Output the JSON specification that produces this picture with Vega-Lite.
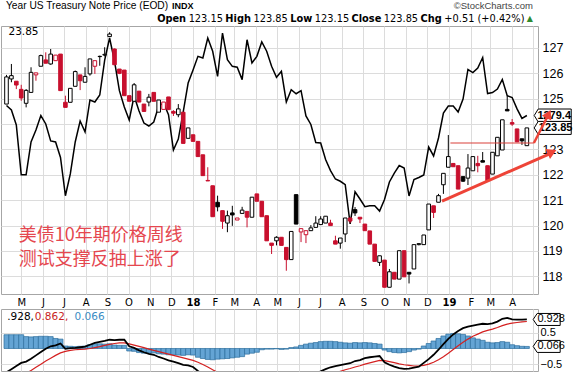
{
  "$schema": "https://vega.github.io/schema/vega-lite/v6.json",
  "padding": {"left": 0, "top": 0, "right": 0, "bottom": 0},
  "autosize": {"type": "pad"},
  "background": "white",
  "bounds": "flush",
  "spacing": 15,
  "config": {
    "view": {"stroke": "#a6a6a6", "strokeWidth": 1},
    "axis": {"gridColor": "#dcdcdc", "gridWidth": 1, "domain": false, "ticks": false, "labelColor": "#000", "title": null},
    "axisY": {"labelOverlap": false},
    "axisRight": {"labelOverlap": false}
  },
  "datasets": {
    "w": [
      {"d":"2017-04-10","o":124.79,"h":125.94,"l":124.79,"c":125.86,"g":1287.9,"m":-0.76,"s":-1.2,"hi":0.44},
      {"d":"2017-04-17","o":125.78,"h":126.37,"l":125.65,"c":125.91,"g":1284.1,"m":-0.66,"s":-1.1,"hi":0.44},
      {"d":"2017-04-24","o":125.69,"h":125.69,"l":125.38,"c":125.54,"g":1271.3,"m":-0.56,"s":-1.0,"hi":0.44},
      {"d":"2017-05-01","o":125.37,"h":125.55,"l":124.92,"c":125.03,"g":1229.1,"m":-0.46,"s":-0.9,"hi":0.44},
      {"d":"2017-05-08","o":124.82,"h":125.38,"l":124.66,"c":125.33,"g":1229.1,"m":-0.42,"s":-0.8,"hi":0.38},
      {"d":"2017-05-15","o":125.25,"h":126.24,"l":125.25,"c":126.04,"g":1256.9,"m":-0.33,"s":-0.7,"hi":0.37},
      {"d":"2017-05-22","o":125.94,"h":126.02,"l":125.71,"c":126.02,"g":1267.1,"m":-0.22,"s":-0.6,"hi":0.38},
      {"d":"2017-05-29","o":126.28,"h":126.74,"l":126.28,"c":126.70,"g":1279.4,"m":-0.11,"s":-0.5,"hi":0.39},
      {"d":"2017-06-05","o":126.53,"h":126.83,"l":126.40,"c":126.40,"g":1272.2,"m":-0.01,"s":-0.4,"hi":0.39},
      {"d":"2017-06-12","o":126.37,"h":126.96,"l":126.34,"c":126.76,"g":1257.8,"m":0.07,"s":-0.31,"hi":0.38},
      {"d":"2017-06-19","o":126.50,"h":126.72,"l":126.50,"c":126.72,"g":1256.9,"m":0.10,"s":-0.22,"hi":0.32},
      {"d":"2017-06-26","o":126.76,"h":126.76,"l":125.32,"c":125.32,"g":1243.7,"m":0.16,"s":-0.14,"hi":0.30},
      {"d":"2017-07-03","o":124.86,"h":125.12,"l":124.66,"c":124.66,"g":1211.2,"m":-0.01,"s":-0.09,"hi":0.08},
      {"d":"2017-07-10","o":124.86,"h":125.41,"l":124.86,"c":125.41,"g":1229.7,"m":0.01,"s":-0.06,"hi":0.07},
      {"d":"2017-07-17","o":125.49,"h":126.11,"l":125.49,"c":126.07,"g":1256.9,"m":0.02,"s":-0.04,"hi":0.06},
      {"d":"2017-07-24","o":125.94,"h":125.94,"l":125.34,"c":125.71,"g":1274.7,"m":0.04,"s":-0.03,"hi":0.07},
      {"d":"2017-07-31","o":125.65,"h":126.24,"l":125.65,"c":125.88,"g":1265.4,"m":0.06,"s":-0.02,"hi":0.08},
      {"d":"2017-08-07","o":125.98,"h":126.57,"l":125.91,"c":126.57,"g":1292.6,"m":0.12,"s":0.0,"hi":0.12},
      {"d":"2017-08-14","o":126.28,"h":126.50,"l":125.98,"c":126.50,"g":1290.9,"m":0.18,"s":0.03,"hi":0.15},
      {"d":"2017-08-21","o":126.66,"h":126.70,"l":126.30,"c":126.67,"g":1296.8,"m":0.21,"s":0.06,"hi":0.15},
      {"d":"2017-08-28","o":126.72,"h":127.03,"l":126.67,"c":126.75,"g":1326.5,"m":0.24,"s":0.10,"hi":0.14},
      {"d":"2017-09-04","o":127.45,"h":127.62,"l":127.45,"c":127.55,"g":1345.3,"m":0.28,"s":0.13,"hi":0.15},
      {"d":"2017-09-11","o":126.96,"h":126.98,"l":126.34,"c":126.34,"g":1325.7,"m":0.27,"s":0.16,"hi":0.11},
      {"d":"2017-09-18","o":126.17,"h":126.17,"l":125.97,"c":126.00,"g":1300.5,"m":0.28,"s":0.18,"hi":0.10},
      {"d":"2017-09-25","o":126.13,"h":126.13,"l":125.12,"c":125.12,"g":1286.6,"m":0.28,"s":0.18,"hi":0.10},
      {"d":"2017-10-02","o":125.12,"h":125.12,"l":124.90,"c":124.90,"g":1275.6,"m":0.07,"s":0.15,"hi":-0.08},
      {"d":"2017-10-09","o":124.90,"h":125.62,"l":124.87,"c":125.55,"g":1296.0,"m":0.02,"s":0.11,"hi":-0.09},
      {"d":"2017-10-16","o":125.30,"h":125.30,"l":124.87,"c":124.87,"g":1283.3,"m":-0.06,"s":0.07,"hi":-0.13},
      {"d":"2017-10-23","o":124.79,"h":124.79,"l":124.50,"c":124.50,"g":1273.0,"m":-0.12,"s":0.03,"hi":-0.15},
      {"d":"2017-10-30","o":124.87,"h":125.19,"l":124.70,"c":125.06,"g":1270.5,"m":-0.17,"s":-0.02,"hi":-0.15},
      {"d":"2017-11-06","o":125.25,"h":125.25,"l":124.90,"c":124.90,"g":1273.9,"m":-0.20,"s":-0.06,"hi":-0.14},
      {"d":"2017-11-13","o":124.47,"h":124.95,"l":124.47,"c":124.95,"g":1287.5,"m":-0.27,"s":-0.10,"hi":-0.17},
      {"d":"2017-11-20","o":124.58,"h":124.87,"l":124.58,"c":124.87,"g":1290.0,"m":-0.32,"s":-0.14,"hi":-0.18},
      {"d":"2017-11-27","o":125.07,"h":125.07,"l":124.57,"c":124.57,"g":1280.1,"m":-0.38,"s":-0.18,"hi":-0.20},
      {"d":"2017-12-04","o":124.50,"h":124.55,"l":124.32,"c":124.43,"g":1250.1,"m":-0.42,"s":-0.22,"hi":-0.20},
      {"d":"2017-12-11","o":124.37,"h":124.79,"l":124.27,"c":124.60,"g":1259.4,"m":-0.47,"s":-0.26,"hi":-0.21},
      {"d":"2017-12-18","o":124.47,"h":124.47,"l":123.24,"c":123.24,"g":1282.4,"m":-0.52,"s":-0.30,"hi":-0.22},
      {"d":"2017-12-25","o":123.44,"h":123.85,"l":123.44,"c":123.85,"g":1307.0,"m":-0.54,"s":-0.34,"hi":-0.20},
      {"d":"2018-01-01","o":123.58,"h":123.58,"l":123.32,"c":123.32,"g":1318.1,"m":-0.59,"s":-0.38,"hi":-0.21},
      {"d":"2018-01-08","o":123.32,"h":123.32,"l":122.72,"c":122.72,"g":1329.7,"m":-0.72,"s":-0.44,"hi":-0.28},
      {"d":"2018-01-15","o":122.79,"h":122.79,"l":121.97,"c":121.97,"g":1328.3,"m":-0.83,"s":-0.51,"hi":-0.32},
      {"d":"2018-01-22","o":121.78,"h":122.30,"l":121.76,"c":121.76,"g":1345.3,"m":-0.94,"s":-0.59,"hi":-0.35},
      {"d":"2018-01-29","o":121.57,"h":121.57,"l":120.35,"c":120.35,"g":1334.0,"m":-1.04,"s":-0.68,"hi":-0.36},
      {"d":"2018-02-05","o":120.92,"h":121.18,"l":120.56,"c":120.74,"g":1312.7,"m":-1.10,"s":-0.76,"hi":-0.34},
      {"d":"2018-02-12","o":120.59,"h":120.59,"l":119.87,"c":120.17,"g":1349.5,"m":-1.17,"s":-0.84,"hi":-0.33},
      {"d":"2018-02-19","o":120.10,"h":120.59,"l":119.74,"c":120.39,"g":1326.8,"m":-1.23,"s":-0.91,"hi":-0.32},
      {"d":"2018-02-26","o":120.50,"h":120.78,"l":119.99,"c":120.42,"g":1321.2,"m":-1.28,"s":-0.98,"hi":-0.30},
      {"d":"2018-03-05","o":120.22,"h":120.30,"l":120.22,"c":120.30,"g":1320.4,"m":-1.32,"s":-1.04,"hi":-0.28},
      {"d":"2018-03-12","o":120.48,"h":120.74,"l":120.48,"c":120.61,"g":1309.9,"m":-1.35,"s":-1.09,"hi":-0.26},
      {"d":"2018-03-19","o":120.56,"h":120.56,"l":119.93,"c":120.33,"g":1343.8,"m":-1.30,"s":-1.12,"hi":-0.18},
      {"d":"2018-03-26","o":120.33,"h":121.12,"l":120.33,"c":121.12,"g":1324.0,"m":-1.29,"s":-1.14,"hi":-0.15},
      {"d":"2018-04-02","o":121.25,"h":121.25,"l":120.96,"c":120.96,"g":1329.7,"m":-1.27,"s":-1.15,"hi":-0.12},
      {"d":"2018-04-09","o":120.96,"h":120.96,"l":120.35,"c":120.35,"g":1341.9,"m":-1.19,"s":-1.15,"hi":-0.04},
      {"d":"2018-04-16","o":120.39,"h":120.39,"l":119.40,"c":119.40,"g":1334.0,"m":-1.17,"s":-1.15,"hi":-0.02},
      {"d":"2018-04-23","o":119.31,"h":119.31,"l":118.88,"c":119.22,"g":1321.2,"m":-1.18,"s":-1.16,"hi":-0.02},
      {"d":"2018-04-30","o":119.40,"h":119.58,"l":119.22,"c":119.54,"g":1311.9,"m":-1.17,"s":-1.16,"hi":-0.01},
      {"d":"2018-05-07","o":119.54,"h":119.54,"l":119.22,"c":119.22,"g":1317.0,"m":-1.20,"s":-1.17,"hi":-0.03},
      {"d":"2018-05-14","o":119.14,"h":119.14,"l":118.22,"c":118.66,"g":1290.9,"m":-1.19,"s":-1.17,"hi":-0.02},
      {"d":"2018-05-21","o":118.66,"h":119.77,"l":118.66,"c":119.77,"g":1301.3,"m":-1.14,"s":-1.17,"hi":0.03},
      {"d":"2018-05-28","o":121.22,"h":121.22,"l":120.06,"c":120.06,"g":1297.9,"m":-1.10,"s":-1.15,"hi":0.05},
      {"d":"2018-06-04","o":119.75,"h":119.88,"l":119.35,"c":119.88,"g":1300.5,"m":-1.03,"s":-1.13,"hi":0.10},
      {"d":"2018-06-11","o":119.64,"h":119.80,"l":119.31,"c":119.80,"g":1279.0,"m":-0.95,"s":-1.09,"hi":0.14},
      {"d":"2018-06-18","o":119.80,"h":120.02,"l":119.79,"c":119.91,"g":1271.8,"m":-0.88,"s":-1.05,"hi":0.17},
      {"d":"2018-06-25","o":119.93,"h":120.37,"l":119.93,"c":120.10,"g":1256.5,"m":-0.81,"s":-1.0,"hi":0.19},
      {"d":"2018-07-02","o":120.04,"h":120.37,"l":120.04,"c":120.26,"g":1256.0,"m":-0.73,"s":-0.95,"hi":0.22},
      {"d":"2018-07-09","o":120.10,"h":120.37,"l":120.10,"c":120.37,"g":1242.0,"m":-0.66,"s":-0.89,"hi":0.23},
      {"d":"2018-07-16","o":120.10,"h":120.23,"l":120.00,"c":120.00,"g":1232.5,"m":-0.60,"s":-0.83,"hi":0.23},
      {"d":"2018-07-23","o":119.40,"h":119.60,"l":119.27,"c":119.27,"g":1225.4,"m":-0.56,"s":-0.78,"hi":0.22},
      {"d":"2018-07-30","o":119.31,"h":119.51,"l":119.09,"c":119.51,"g":1223.5,"m":-0.53,"s":-0.73,"hi":0.20},
      {"d":"2018-08-06","o":119.67,"h":120.30,"l":119.35,"c":120.30,"g":1220.6,"m":-0.50,"s":-0.68,"hi":0.18},
      {"d":"2018-08-13","o":120.30,"h":120.30,"l":120.10,"c":120.18,"g":1187.2,"m":-0.47,"s":-0.64,"hi":0.17},
      {"d":"2018-08-20","o":120.63,"h":120.73,"l":120.38,"c":120.50,"g":1214.6,"m":-0.40,"s":-0.59,"hi":0.19},
      {"d":"2018-08-27","o":120.33,"h":120.33,"l":120.10,"c":120.26,"g":1208.4,"m":-0.37,"s":-0.55,"hi":0.18},
      {"d":"2018-09-03","o":120.06,"h":120.06,"l":119.80,"c":119.80,"g":1201.9,"m":-0.31,"s":-0.50,"hi":0.19},
      {"d":"2018-09-10","o":119.79,"h":119.79,"l":119.27,"c":119.27,"g":1202.7,"m":-0.28,"s":-0.46,"hi":0.18},
      {"d":"2018-09-17","o":119.27,"h":119.27,"l":118.59,"c":118.59,"g":1202.7,"m":-0.26,"s":-0.42,"hi":0.16},
      {"d":"2018-09-24","o":118.55,"h":118.81,"l":118.41,"c":118.81,"g":1198.2,"m":-0.24,"s":-0.38,"hi":0.14},
      {"d":"2018-10-01","o":118.64,"h":118.64,"l":117.57,"c":117.57,"g":1208.0,"m":-0.44,"s":-0.39,"hi":-0.05},
      {"d":"2018-10-08","o":117.57,"h":118.29,"l":117.57,"c":118.18,"g":1222.9,"m":-0.52,"s":-0.42,"hi":-0.10},
      {"d":"2018-10-15","o":118.16,"h":118.16,"l":117.89,"c":117.89,"g":1230.5,"m":-0.58,"s":-0.45,"hi":-0.13},
      {"d":"2018-10-22","o":117.89,"h":119.01,"l":117.89,"c":119.01,"g":1236.9,"m":-0.63,"s":-0.49,"hi":-0.14},
      {"d":"2018-10-29","o":119.01,"h":119.01,"l":117.98,"c":117.98,"g":1234.8,"m":-0.65,"s":-0.52,"hi":-0.13},
      {"d":"2018-11-05","o":118.16,"h":118.16,"l":117.72,"c":118.09,"g":1211.0,"m":-0.64,"s":-0.54,"hi":-0.10},
      {"d":"2018-11-12","o":118.29,"h":119.25,"l":118.29,"c":119.25,"g":1225.0,"m":-0.61,"s":-0.56,"hi":-0.05},
      {"d":"2018-11-19","o":119.25,"h":119.30,"l":119.22,"c":119.29,"g":1226.7,"m":-0.58,"s":-0.56,"hi":-0.02},
      {"d":"2018-11-26","o":119.25,"h":119.63,"l":119.25,"c":119.63,"g":1228.8,"m":-0.46,"s":-0.54,"hi":0.08},
      {"d":"2018-12-03","o":119.83,"h":120.85,"l":119.83,"c":120.85,"g":1252.6,"m":-0.34,"s":-0.50,"hi":0.16},
      {"d":"2018-12-10","o":120.78,"h":120.78,"l":120.30,"c":120.52,"g":1245.0,"m":-0.20,"s":-0.44,"hi":0.24},
      {"d":"2018-12-17","o":120.92,"h":121.25,"l":120.92,"c":121.18,"g":1260.3,"m":-0.04,"s":-0.36,"hi":0.32},
      {"d":"2018-12-24","o":121.61,"h":122.06,"l":121.25,"c":122.06,"g":1281.5,"m":0.14,"s":-0.26,"hi":0.40},
      {"d":"2018-12-31","o":122.30,"h":123.57,"l":122.30,"c":122.72,"g":1287.5,"m":0.31,"s":-0.15,"hi":0.46},
      {"d":"2019-01-07","o":122.45,"h":122.45,"l":122.32,"c":122.32,"g":1287.5,"m":0.45,"s":-0.03,"hi":0.48},
      {"d":"2019-01-14","o":122.36,"h":122.36,"l":121.44,"c":121.44,"g":1282.4,"m":0.56,"s":0.09,"hi":0.47},
      {"d":"2019-01-21","o":121.93,"h":121.93,"l":121.72,"c":121.75,"g":1293.4,"m":0.65,"s":0.20,"hi":0.45},
      {"d":"2019-01-28","o":121.87,"h":122.82,"l":121.60,"c":122.27,"g":1318.5,"m":0.70,"s":0.30,"hi":0.40},
      {"d":"2019-02-04","o":122.16,"h":122.72,"l":122.16,"c":122.72,"g":1315.9,"m":0.73,"s":0.39,"hi":0.34},
      {"d":"2019-02-11","o":122.45,"h":122.75,"l":122.10,"c":122.36,"g":1319.8,"m":0.76,"s":0.46,"hi":0.30},
      {"d":"2019-02-18","o":122.56,"h":122.90,"l":122.50,"c":122.50,"g":1328.7,"m":0.79,"s":0.53,"hi":0.26},
      {"d":"2019-02-25","o":122.36,"h":122.36,"l":121.77,"c":121.77,"g":1298.1,"m":0.78,"s":0.58,"hi":0.20},
      {"d":"2019-03-04","o":122.03,"h":122.89,"l":122.03,"c":122.89,"g":1298.9,"m":0.80,"s":0.62,"hi":0.18},
      {"d":"2019-03-11","o":122.75,"h":123.48,"l":122.75,"c":123.48,"g":1301.9,"m":0.86,"s":0.67,"hi":0.19},
      {"d":"2019-03-18","o":122.98,"h":124.17,"l":122.98,"c":124.17,"g":1310.0,"m":0.95,"s":0.73,"hi":0.22},
      {"d":"2019-03-25","o":124.58,"h":125.12,"l":124.52,"c":124.52,"g":1296.2,"m":0.98,"s":0.78,"hi":0.20},
      {"d":"2019-04-01","o":124.06,"h":124.20,"l":123.93,"c":124.00,"g":1294.7,"m":0.93,"s":0.81,"hi":0.12},
      {"d":"2019-04-08","o":123.81,"h":123.81,"l":123.30,"c":123.30,"g":1285.0,"m":0.92,"s":0.83,"hi":0.09},
      {"d":"2019-04-15","o":123.42,"h":123.42,"l":123.18,"c":123.34,"g":1276.9,"m":0.92,"s":0.85,"hi":0.07},
      {"d":"2019-04-22","o":123.15,"h":123.85,"l":123.15,"c":123.85,"g":1279.4,"m":0.928,"s":0.862,"hi":0.066}
    ],
    "hdr": [
      {"t": "Open", "b": "bold", "x": "2017-11-10T19:00:00Z"},
      {"t": "123.15", "b": "normal", "x": "2017-12-25T17:00:00Z"},
      {"t": "High", "b": "bold", "x": "2018-02-16T01:00:00Z"},
      {"t": "123.85", "b": "normal", "x": "2018-03-28T05:00:00Z"},
      {"t": "Low", "b": "bold", "x": "2018-05-19T13:00:00Z"},
      {"t": "123.15", "b": "normal", "x": "2018-06-23T16:00:00Z"},
      {"t": "Close", "b": "bold", "x": "2018-08-15T00:00:00Z"},
      {"t": "123.85", "b": "normal", "x": "2018-09-30T01:00:00Z"},
      {"t": "Chg", "b": "bold", "x": "2018-11-21T09:00:00Z"},
      {"t": "+0.51 (+0.42%)", "b": "normal", "x": "2018-12-25T09:00:00Z"}
    ]
  },
  "vconcat": [
    {
      "width": 537,
      "height": 268,
      "layer": [
        {
          "layer": [
            {
              "data": {"name": "w"},
              "mark": {"type": "line", "clip": true, "color": "#000", "strokeWidth": 1.5},
              "encoding": {
                "x": {"field": "d", "type": "temporal"},
                "y": {"field": "g", "type": "quantitative", "scale": {"domain": [1127.675, 1355.475], "nice": false, "zero": false}, "axis": null}
              }
            },
            {
              "data": {"values": [{}]},
              "mark": {"type": "point", "shape": "M0,0 L0.4,-0.65 L3.7,-0.65 L3.7,0.65 L0.4,0.65 Z", "filled": true, "fill": "#ffffff", "stroke": "#000", "strokeWidth": 1, "opacity": 1, "size": 400},
              "encoding": {
                "x": {"datum": {"year": 2019, "month": 5, "date": 2, "hours": 12, "utc": true}, "type": "temporal"},
                "y": {"datum": 1279.4, "type": "quantitative"}
              }
            },
            {
              "data": {"values": [{}]},
              "mark": {"type": "text", "align": "left", "baseline": "middle", "font": "Liberation Sans", "fontWeight": "bold", "fontSize": 11, "fill": "#000", "text": "1279.40", "limit": 36, "ellipsis": "\u200b"},
              "encoding": {
                "x": {"datum": {"year": 2019, "month": 5, "date": 7, "utc": true}, "type": "temporal"},
                "y": {"datum": 1279.4, "type": "quantitative"}
              }
            }
          ]
        },
        {
          "layer": [
            {
              "data": {"name": "w"},
              "transform": [{"window": [{"op": "lag", "field": "c", "as": "pc"}], "sort": [{"field": "d"}]}],
              "mark": {"type": "rule", "clip": true, "strokeWidth": 1},
              "encoding": {
                "x": {
                  "field": "d", "type": "temporal",
                  "scale": {"type": "utc", "domain": [{"year": 2017, "month": 4, "date": 9, "hours": 7, "utc": true}, {"year": 2019, "month": 4, "date": 30, "hours": 18, "utc": true}]},
                  "axis": {
                    "orient": "bottom", "title": null, "grid": true, "domain": false, "ticks": false,
                    "tickCount": {"interval": "month", "step": 1},
                    "labelExpr": "datum.value > 1555000000000 ? '' : (utcmonth(datum.value) === 0 ? utcFormat(datum.value, '%y') : slice(utcFormat(datum.value, '%b'), 0, 1))",
                    "labelFont": "DejaVu Sans", "labelFontSize": 10, "labelPadding": 3,
                    "labelFontWeight": {"condition": {"test": "utcmonth(datum.value) === 0", "value": "bold"}, "value": "normal"},
                    "labelFlush": false, "labelOverlap": false
                  }
                },
                "y": {"field": "l", "type": "quantitative",
                      "scale": {"domain": [117.304, 127.867], "nice": false, "zero": false},
                      "axis": {"orient": "right", "values": [118, 119, 120, 121, 122, 123, 124, 125, 126, 127], "tickCount": 10, "format": "d", "grid": true, "labelOverlap": false, "labelFont": "Liberation Sans", "labelFontSize": 12.5, "labelPadding": 4}},
                "y2": {"field": "h"},
                "stroke": {"condition": {"test": "datum.pc != null && datum.c < datum.pc", "value": "#c8102e"}, "value": "#000000"}
              }
            },
            {
              "data": {"name": "w"},
              "transform": [{"window": [{"op": "lag", "field": "c", "as": "pc"}], "sort": [{"field": "d"}]}],
              "mark": {"type": "bar", "clip": true, "size": 3.6, "strokeWidth": 1},
              "encoding": {
                "x": {"field": "d", "type": "temporal"},
                "y": {"field": "o", "type": "quantitative",
                      "axis": {"orient": "right", "values": [118, 119, 120, 121, 122, 123, 124, 125, 126, 127], "tickCount": 10, "format": "d", "grid": true, "labelOverlap": false, "labelFont": "Liberation Sans", "labelFontSize": 12.5, "labelPadding": 4}},
                "y2": {"field": "c"},
                "fill": {"condition": [{"test": "datum.c < datum.o && datum.pc != null && datum.c < datum.pc", "value": "#c8102e"}, {"test": "datum.c < datum.o", "value": "#000000"}], "value": "#ffffff"},
                "stroke": {"condition": {"test": "datum.pc != null && datum.c < datum.pc", "value": "#c8102e"}, "value": "#000000"}
              }
            },
            {
              "data": {"values": [{}]},
              "mark": {"type": "text", "align": "left", "baseline": "middle", "font": "Liberation Sans", "fontSize": 10.2, "fill": "#000", "text": "Year US Treasury Note Price (EOD)"},
              "encoding": {
                "x": {"datum": {"year": 2017, "month": 4, "date": 9, "hours": 7, "utc": true}, "type": "temporal"},
                "y": {"datum": 128.656, "type": "quantitative"}
              }
            },
            {
              "data": {"values": [{}]},
              "mark": {"type": "text", "align": "left", "baseline": "middle", "font": "Liberation Sans", "fontWeight": "bold", "fontSize": 9, "fill": "#000", "text": "INDX"},
              "encoding": {
                "x": {"datum": {"year": 2017, "month": 12, "date": 2, "utc": true}, "type": "temporal"},
                "y": {"datum": 128.64, "type": "quantitative"}
              }
            },
            {
              "data": {"values": [{}]},
              "mark": {"type": "text", "align": "right", "baseline": "middle", "font": "Liberation Sans", "fontSize": 9.5, "fill": "#444", "text": "©StockCharts.com"},
              "encoding": {
                "x": {"datum": {"year": 2019, "month": 4, "date": 30, "hours": 18, "utc": true}, "type": "temporal"},
                "y": {"datum": 128.656, "type": "quantitative"}
              }
            },
            {
              "data": {"name": "hdr"},
              "transform": [{"filter": "datum.b === 'bold'"}],
              "mark": {"type": "text", "align": "left", "baseline": "middle", "font": "DejaVu Sans", "fontWeight": "bold", "fontSize": 9.8, "fill": "#000"},
              "encoding": {
                "x": {"field": "x", "type": "temporal"},
                "y": {"datum": 128.143, "type": "quantitative"},
                "text": {"field": "t"}
              }
            },
            {
              "data": {"name": "hdr"},
              "transform": [{"filter": "datum.b !== 'bold'"}],
              "mark": {"type": "text", "align": "left", "baseline": "middle", "font": "DejaVu Sans", "fontWeight": "normal", "fontSize": 9.8, "fill": "#000"},
              "encoding": {
                "x": {"field": "x", "type": "temporal"},
                "y": {"datum": 128.143, "type": "quantitative"},
                "text": {"field": "t"}
              }
            },
            {
              "data": {"values": [{}]},
              "mark": {"type": "text", "align": "right", "baseline": "middle", "font": "DejaVu Sans", "fontSize": 8, "fill": "#2e8b2e", "text": "▲"},
              "encoding": {
                "x": {"datum": {"year": 2019, "month": 4, "date": 30, "hours": 18, "utc": true}, "type": "temporal"},
                "y": {"datum": 128.143, "type": "quantitative"}
              }
            },
            {
              "data": {"values": [{}]},
              "mark": {"type": "text", "align": "left", "baseline": "middle", "font": "DejaVu Sans", "fontSize": 10.5, "fill": "#000", "text": "23.85"},
              "encoding": {
                "x": {"datum": {"year": 2017, "month": 4, "date": 12, "hours": 19, "utc": true}, "type": "temporal"},
                "y": {"datum": 127.611, "type": "quantitative"}
              }
            },
            {
              "data": {"values": [{}]},
              "mark": {"type": "text", "align": "left", "baseline": "middle", "font": "Noto Sans CJK SC", "fontSize": 18, "fill": "#e5474f", "text": "美债10年期价格周线"},
              "encoding": {
                "x": {"datum": {"year": 2017, "month": 4, "date": 27, "hours": 11, "utc": true}, "type": "temporal"},
                "y": {"datum": 119.59, "type": "quantitative"}
              }
            },
            {
              "data": {"values": [{}]},
              "mark": {"type": "text", "align": "left", "baseline": "middle", "font": "Noto Sans CJK SC", "fontSize": 18, "fill": "#e5474f", "text": "测试支撑反抽上涨了"},
              "encoding": {
                "x": {"datum": {"year": 2017, "month": 4, "date": 27, "hours": 11, "utc": true}, "type": "temporal"},
                "y": {"datum": 118.644, "type": "quantitative"}
              }
            },
            {
              "data": {"values": [{}]},
              "mark": {"type": "point", "shape": "M0,0 L0.4,-0.65 L3.7,-0.65 L3.7,0.65 L0.4,0.65 Z", "filled": true, "fill": "#ffffff", "stroke": "#000", "strokeWidth": 1, "opacity": 1, "size": 400},
              "encoding": {
                "x": {"datum": {"year": 2019, "month": 5, "date": 2, "hours": 12, "utc": true}, "type": "temporal"},
                "y": {"datum": 123.85, "type": "quantitative"}
              }
            },
            {
              "data": {"values": [{}]},
              "mark": {"type": "text", "align": "left", "baseline": "middle", "font": "Liberation Sans", "fontWeight": "bold", "fontSize": 11, "fill": "#000", "text": "123.85"},
              "encoding": {
                "x": {"datum": {"year": 2019, "month": 5, "date": 9, "utc": true}, "type": "temporal"},
                "y": {"datum": 123.85, "type": "quantitative"}
              }
            },
            {
              "data": {"values": [{}]},
              "mark": {"type": "rule", "stroke": "#d9403a", "strokeWidth": 1.2},
              "encoding": {
                "x": {"datum": {"year": 2019, "month": 1, "date": 3, "utc": true}, "type": "temporal"},
                "x2": {"datum": {"year": 2019, "month": 5, "date": 2, "utc": true}},
                "y": {"datum": 123.256, "type": "quantitative"}
              }
            },
            {
              "data": {"values": [{}]},
              "mark": {"type": "rule", "stroke": "#ee4438", "strokeWidth": 2.5},
              "encoding": {
                "x": {"datum": {"year": 2019, "month": 5, "date": 2, "utc": true}, "type": "temporal"},
                "x2": {"datum": {"year": 2019, "month": 5, "date": 22, "utc": true}},
                "y": {"datum": 123.256, "type": "quantitative"},
                "y2": {"datum": 124.33}
              }
            },
            {
              "data": {"values": [{}]},
              "mark": {"type": "point", "shape": "triangle-up", "filled": true, "fill": "#ee4438", "opacity": 1, "size": 110, "angle": 27},
              "encoding": {
                "x": {"datum": {"year": 2019, "month": 5, "date": 23, "utc": true}, "type": "temporal"},
                "y": {"datum": 124.40, "type": "quantitative"}
              }
            },
            {
              "data": {"values": [{}]},
              "mark": {"type": "rule", "stroke": "#ee4438", "strokeWidth": 3},
              "encoding": {
                "x": {"datum": {"year": 2018, "month": 12, "date": 22, "utc": true}, "type": "temporal"},
                "x2": {"datum": {"year": 2019, "month": 5, "date": 26, "utc": true}},
                "y": {"datum": 120.969, "type": "quantitative"},
                "y2": {"datum": 122.85}
              }
            },
            {
              "data": {"values": [{}]},
              "mark": {"type": "point", "shape": "triangle-up", "filled": true, "fill": "#ee4438", "opacity": 1, "size": 120, "angle": 66},
              "encoding": {
                "x": {"datum": {"year": 2019, "month": 5, "date": 28, "utc": true}, "type": "temporal"},
                "y": {"datum": 122.90, "type": "quantitative"}
              }
            }
          ]
        }
      ],
      "resolve": {"scale": {"y": "independent"}}
    },
    {
      "width": 537,
      "height": 62,
      "layer": [
        {
          "data": {"name": "w"},
          "encoding": {
            "x": {
              "field": "d", "type": "temporal",
              "scale": {"type": "utc", "domain": [{"year": 2017, "month": 4, "date": 9, "hours": 7, "utc": true}, {"year": 2019, "month": 4, "date": 30, "hours": 18, "utc": true}]},
              "axis": {"labels": false, "grid": true, "domain": false, "ticks": false, "title": null, "tickCount": {"interval": "month", "step": 1}}
            }
          },
          "layer": [
            {
              "mark": {"type": "bar", "clip": true, "size": 5, "fill": "#64a4d4", "stroke": "#2d6e9e", "strokeWidth": 0.7},
              "encoding": {
                "y": {"field": "hi", "type": "quantitative", "scale": {"domain": [-0.719, 1.262], "nice": false, "zero": false},
                      "axis": {"orient": "right", "values": [-0.5, 0.5], "format": ".1f", "grid": true, "labelOverlap": false, "labelFont": "Liberation Sans", "labelFontSize": 11, "labelPadding": 2}},
                "y2": {"datum": 0}
              }
            },
            {
              "mark": {"type": "line", "clip": true, "color": "#d42020", "strokeWidth": 1.2},
              "encoding": {"y": {"field": "s", "type": "quantitative"}}
            },
            {
              "mark": {"type": "line", "clip": true, "color": "#000", "strokeWidth": 1.8},
              "encoding": {"y": {"field": "m", "type": "quantitative"}}
            }
          ]
        },
        {
          "data": {"values": [{}]},
          "mark": {"type": "text", "align": "left", "baseline": "middle", "font": "DejaVu Sans", "fontSize": 10.5, "fill": "#000", "text": ".928,"},
          "encoding": {
            "x": {"datum": {"year": 2017, "month": 4, "date": 11, "utc": true}, "type": "temporal"},
            "y": {"datum": 1.02, "type": "quantitative"}
          }
        },
        {
          "data": {"values": [{}]},
          "mark": {"type": "text", "align": "left", "baseline": "middle", "font": "DejaVu Sans", "fontSize": 10.5, "fill": "#c81e1e", "text": "0.862,"},
          "encoding": {
            "x": {"datum": {"year": 2017, "month": 5, "date": 20, "hours": 10, "utc": true}, "type": "temporal"},
            "y": {"datum": 1.02, "type": "quantitative"}
          }
        },
        {
          "data": {"values": [{}]},
          "mark": {"type": "text", "align": "left", "baseline": "middle", "font": "DejaVu Sans", "fontSize": 10.5, "fill": "#3a8cc4", "text": "0.066"},
          "encoding": {
            "x": {"datum": {"year": 2017, "month": 7, "date": 16, "hours": 2, "utc": true}, "type": "temporal"},
            "y": {"datum": 1.02, "type": "quantitative"}
          }
        },
        {
          "data": {"values": [{"v": 0.928, "t": "0.928"}, {"v": 0.066, "t": "0.066"}]},
          "mark": {"type": "point", "shape": "M0,0 L0.4,-0.6 L2.7,-0.6 L2.7,0.6 L0.4,0.6 Z", "filled": true, "fill": "#ffffff", "stroke": "#000", "strokeWidth": 1, "opacity": 1, "size": 400},
          "encoding": {
            "x": {"datum": {"year": 2019, "month": 5, "date": 1, "utc": true}, "type": "temporal"},
            "y": {"field": "v", "type": "quantitative"}
          }
        },
        {
          "data": {"values": [{"v": 0.928, "t": "0.928"}, {"v": 0.066, "t": "0.066"}]},
          "mark": {"type": "text", "align": "left", "baseline": "middle", "font": "Liberation Sans", "fontSize": 11, "fill": "#000"},
          "encoding": {
            "x": {"datum": {"year": 2019, "month": 5, "date": 7, "utc": true}, "type": "temporal"},
            "y": {"field": "v", "type": "quantitative"},
            "text": {"field": "t"}
          }
        }
      ]
    }
  ]
}
